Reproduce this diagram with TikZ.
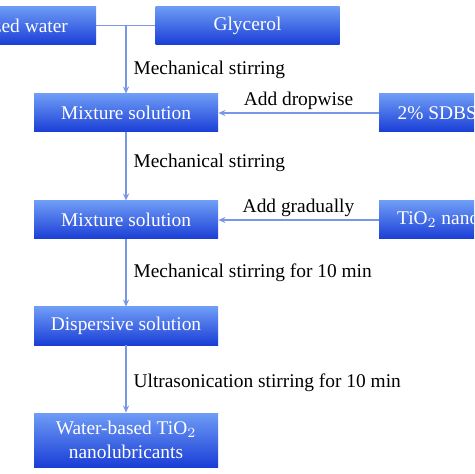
\documentclass[tikz,border=0pt]{standalone}
\usepackage{fontspec}
\setmainfont{Liberation Serif}
\usepackage{xcolor}
\usepackage{tikz}
\usetikzlibrary{arrows.meta}
\definecolor{boxtop}{HTML}{6E9CF6}
\definecolor{boxbot}{HTML}{1A3ED6}
\definecolor{flowline}{HTML}{7898E6}

\begin{document}
\begin{tikzpicture}[x=0.5pt,y=-0.5pt]
\tikzstyle{every node}+=[font=\fontsize{9.7}{12.2}\selectfont]
\tikzstyle{box}=[top color=boxtop, bottom color=boxbot, text=white, inner sep=0pt, minimum width=92pt, minimum height=19pt, align=center]
\tikzstyle{flow}=[flowline, line width=0.6pt]
\tikzstyle{arr}=[flow, -{Stealth[length=3.5pt,width=3pt]}]
\tikzstyle{lab}=[text=black, inner sep=1.5pt]
\useasboundingbox (0,0) rectangle (474,474);
\clip (0,0) rectangle (474,474);
\fill [white] (0,0) rectangle (474,474);
% boxes
\node [box] (w) at (4,25.5) {Deionized water};
\node [box] (g) at (247.5,25.5) {Glycerol};
\node [box] (m1) at (126,113) {Mixture solution};
\node [box] (s) at (471,113) {2\% SDBS solution};
\node [box] (m2) at (126,220) {Mixture solution};
\node [box] (t) at (471,220) {TiO$_2$ nanoparticles};
\node [box] (d) at (126,326) {Dispersive solution};
\node [box, minimum height=27pt] (p) at (126,440) {Water-based TiO$_2$\\ nanolubricants};
% connectors
\draw [flow] (w.east) -- (g.west);
\draw [arr] (m1.north |- w.east) -- (m1.north) node [lab, pos=0.65, right=2pt] {Mechanical stirring};
\draw [arr] (s.west) -- (m1.east) node [lab, midway, above] {Add dropwise};
\draw [arr] (m1.south) -- (m2.north) node [lab, pos=0.45, right=2pt] {Mechanical stirring};
\draw [arr] (t.west) -- (m2.east) node [lab, midway, above] {Add gradually};
\draw [arr] (m2.south) -- (d.north) node [lab, midway, right=2pt] {Mechanical stirring for 10 min};
\draw [arr] (d.south) -- (p.north) node [lab, pos=0.55, right=2pt] {Ultrasonication stirring for 10 min};
\end{tikzpicture}
\end{document}
